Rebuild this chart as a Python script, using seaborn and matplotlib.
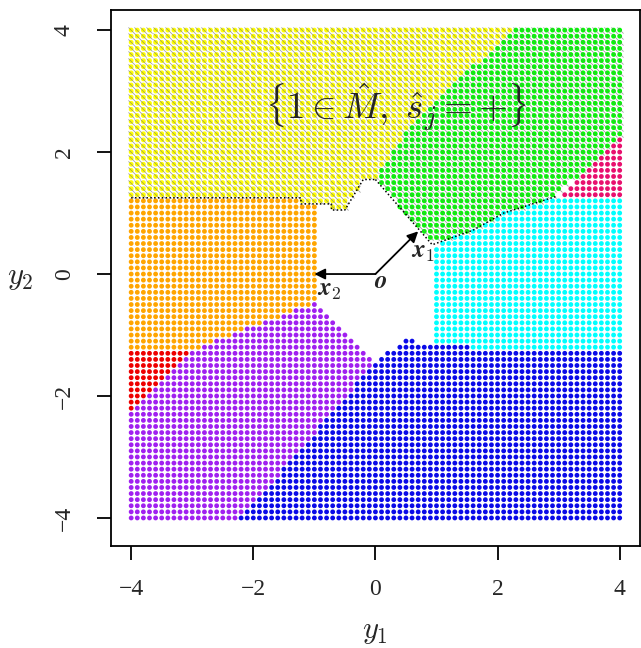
import numpy as np
import pandas as pd
import matplotlib
matplotlib.use("Agg")
import matplotlib.pyplot as plt
from matplotlib.path import Path
import seaborn as sns

# grid of evaluation points
grid_lo, grid_hi, grid_step = -4.0, 4.0, 0.1

# region outlines, (y1, y2) pairs
E = 4.3
yg_edge = [(0.0, 1.55), (0.1, 1.75), (0.56, 2.4), (1.1, 2.95), (2.25, 4.0), (2.4, E)]
notch_edge = [(-E, 1.25), (-1.22, 1.25), (-1.22, 1.15), (-0.72, 1.15), (-0.72, 1.05),
              (-0.5, 1.05), (-0.2, 1.55), (0.0, 1.55)]
stair_edge = [(0.0, 1.55), (0.93, 0.48), (1.6, 0.72), (2.1, 1.0), (2.95, 1.27)]
pink_poly = [(2.95, 1.25), (E, 1.25), (E, 2.53)]
cyan_poly = [(0.95, -1.15), (1.55, -1.15), (1.55, -1.25), (E, -1.25), (E, 1.25),
             (2.95, 1.25), (2.1, 1.0), (1.6, 0.72), (0.95, 0.48)]
blue_poly = [(0.0, -1.45), (0.15, -1.35), (0.25, -1.25), (0.35, -1.15), (0.45, -1.15),
             (0.45, -1.05), (0.65, -1.05), (0.65, -1.15), (1.55, -1.15), (1.55, -1.25),
             (E, -1.25), (E, -E), (-2.46, -E)]
red_poly = [(-E, -1.25), (-2.95, -1.25), (-E, -2.54)]
orange_poly = [(-E, 1.25), (-0.95, 1.25), (-0.95, -0.45), (-3.0, -1.25), (-E, -1.25)]
purple_poly = [(-E, -1.25), (-3.0, -1.25), (-0.95, -0.45), (0.0, -1.45), (-2.46, -E), (-E, -E)]

yellow_poly = [(-E, E)] + yg_edge[::-1] + notch_edge[::-1]
green_poly = yg_edge + [(E, E), (E, 2.53)] + stair_edge[::-1]

regions = [
    ("yellow", yellow_poly),
    ("green", green_poly),
    ("pink", pink_poly),
    ("cyan", cyan_poly),
    ("blue", blue_poly),
    ("red", red_poly),
    ("orange", orange_poly),
    ("purple", purple_poly),
]
palette = {
    "yellow": "#FFFF00",
    "green": "#00FF00",
    "pink": "#E8106E",
    "cyan": "#00FFFF",
    "blue": "#0A0AE8",
    "red": "#EE0000",
    "orange": "#FFA500",
    "purple": "#A020F0",
}
in_set = ["yellow", "green"]

# the two vectors drawn from the origin
vec_x1 = (0.7, 0.7)
vec_x2 = (-1.0, 0.0)

g = np.round(np.arange(grid_lo, grid_hi + grid_step / 2, grid_step), 2)
yy1, yy2 = np.meshgrid(g, g)
pts = np.column_stack([yy1.ravel(), yy2.ravel()])
lab = np.array([None] * len(pts), dtype=object)
for name, poly in regions:
    hit = Path(poly).contains_points(pts) & (lab == None)
    lab[hit] = name

df = pd.DataFrame({"y1": pts[:, 0], "y2": pts[:, 1], "region": lab}).dropna()

sns.set_style("white")
plt.rcParams["font.family"] = ["Liberation Serif", "DejaVu Serif"]
plt.rcParams["mathtext.fontset"] = "cm"

fig = plt.figure(figsize=(6.41, 6.48), dpi=100)
ax = fig.add_axes([0.1732, 0.1574, 0.825, 0.8272])

sns.scatterplot(data=df, x="y1", y="y2", hue="region", palette=palette,
                s=12, linewidth=0, legend=False, ax=ax, zorder=2)

# hatch marks for the set {1 in M, s_j = +}
hatch = Path([(-1, 1), (1, -1)], [Path.MOVETO, Path.LINETO])
sub = df[df["region"].isin(in_set)]
ax.plot(sub["y1"], sub["y2"], linestyle="none", marker=hatch, markersize=4.4,
        markeredgecolor="0.45", markeredgewidth=0.6, alpha=0.65, zorder=3)

# dotted outline of the set
for edge in [[(-4.0, 1.25)] + notch_edge[1:], stair_edge]:
    ex, ey = zip(*edge)
    ax.plot(ex, ey, color="black", linestyle=(0, (1, 1.5)), linewidth=1.1, zorder=4)

for v, lbl, off in [(vec_x1, r"$\boldsymbol{x}_1$", (0.08, -0.36)),
                    (vec_x2, r"$\boldsymbol{x}_2$", (0.25, -0.28))]:
    ax.annotate("", xy=v, xytext=(0, 0),
                arrowprops=dict(arrowstyle="-|>", color="black", lw=1.3,
                                mutation_scale=16, shrinkA=0, shrinkB=0), zorder=5)
    ax.text(v[0] + off[0], v[1] + off[1], lbl, fontsize=18, ha="center", va="center", zorder=5)
ax.text(0.08, -0.13, r"$\boldsymbol{o}$", fontsize=18, ha="center", va="center", zorder=5)

ax.text(0.33, 2.74, r"$\{1 \in \hat{M},\ \hat{s}_j = +\}$", fontsize=26.5,
        ha="center", va="center", zorder=5)

ax.set_xlim(-4.33, 4.33)
ax.set_ylim(-4.46, 4.33)
ax.set_xticks([-4, -2, 0, 2, 4])
ax.set_yticks([-4, -2, 0, 2, 4])
ax.set_xticklabels(["\u22124", "\u22122", "0", "2", "4"])
ax.set_yticklabels(["\u22124", "\u22122", "0", "2", "4"], rotation=90, va="center")
ax.tick_params(direction="out", length=10, width=1.3, labelsize=17, pad=14,
               bottom=True, left=True, color="black")
ax.tick_params(axis="y", pad=16)
for s in ax.spines.values():
    s.set_color("black")
    s.set_linewidth(1.3)

ax.set_xlabel(r"$y_1$", fontsize=22, labelpad=12)
ax.set_ylabel(r"$y_2$", fontsize=22, rotation=0, labelpad=24, va="center")

fig.savefig("out.png", dpi=100)
